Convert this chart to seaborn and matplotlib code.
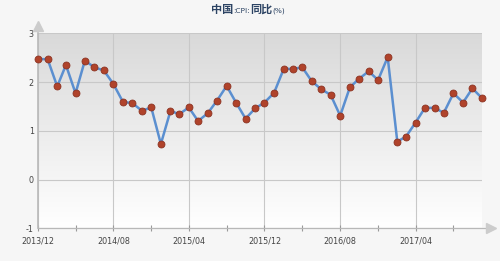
import numpy as np
import pandas as pd
import matplotlib
matplotlib.use("Agg")
import matplotlib.pyplot as plt
import matplotlib.dates as mdates
from matplotlib.colors import LinearSegmentedColormap
from matplotlib.offsetbox import TextArea, HPacker, AnchoredOffsetbox
import seaborn as sns

months = pd.date_range("2013-12-01", periods=48, freq="MS")
cpi = [2.47, 2.47, 1.91, 2.35, 1.77, 2.44, 2.30, 2.24, 1.96, 1.59, 1.57, 1.41,
       1.48, 0.73, 1.41, 1.34, 1.48, 1.20, 1.36, 1.62, 1.92, 1.57, 1.25, 1.46,
       1.58, 1.78, 2.27, 2.27, 2.30, 2.02, 1.85, 1.74, 1.31, 1.89, 2.07, 2.22,
       2.04, 2.51, 0.78, 0.88, 1.17, 1.47, 1.47, 1.37, 1.77, 1.58, 1.87, 1.67]
yticks = [-1, 0, 1, 2, 3]
title_parts = [("中国", True), (":CPI:", False), ("同比", True), ("(%)", False)]

df = pd.DataFrame({"month": months, "cpi": cpi})

sns.set_theme(style="white")
plt.rcParams["font.family"] = ["DejaVu Sans", "Noto Sans CJK SC"]

fig = plt.figure(figsize=(5.0, 2.61), dpi=100)
fig.patch.set_facecolor("#f6f6f6")

pos = [38 / 500, 1 - 228.3 / 261, 444 / 500, 195 / 261]
ax_bg = fig.add_axes(pos, zorder=0)
grad = np.linspace(0, 1, 256).reshape(-1, 1)
cmap = LinearSegmentedColormap.from_list("g", ["#ffffff", "#d9d9d9"])
ax_bg.imshow(grad, aspect="auto", cmap=cmap, origin="lower", extent=[0, 1, 0, 1])
ax_bg.set_axis_off()

ax = fig.add_axes(pos, zorder=1)
ax.patch.set_alpha(0)

sns.lineplot(data=df, x="month", y="cpi", ax=ax, color="#5b8fd0", linewidth=1.8,
             marker="o", markersize=5.0, markerfacecolor="#b0432b",
             markeredgecolor="#8c3322", markeredgewidth=0.6, clip_on=False, zorder=5)

ax.set_xlim(pd.Timestamp("2013-12-01"), pd.Timestamp("2017-11-01"))
ax.set_ylim(-1, 3)
ax.set_yticks(yticks)
ax.set_yticklabels([str(v) for v in yticks])
ax.set_xlabel("")
ax.set_ylabel("")

major = pd.date_range("2013-12-01", "2017-11-01", freq="8MS")
minor = pd.date_range("2014-04-01", "2017-11-01", freq="8MS")
ax.set_xticks(major)
ax.set_xticks(minor, minor=True)
ax.xaxis.set_major_formatter(mdates.DateFormatter("%Y/%m"))

ax.grid(True, which="major", axis="both", color="#c8c8c8", linewidth=0.8)
for s in ["top", "right"]:
    ax.spines[s].set_visible(False)
ax.spines["left"].set_color("#bbbbbb")
ax.spines["bottom"].set_visible(False)

ax.tick_params(axis="x", which="both", direction="inout", length=4, width=0.8,
               color="#999999", labelsize=5.8, labelcolor="#444444", pad=4, bottom=True)
ax.tick_params(axis="y", length=0, labelsize=5.8, labelcolor="#444444", pad=3, left=False)

ax.plot([0, 1.011], [0, 0], transform=ax.transAxes, color="#b8b8b8", lw=0.9,
        clip_on=False, zorder=3)
ax.plot([1.02], [0], transform=ax.transAxes, marker=">", markersize=6.5,
        color="#cccccc", clip_on=False, zorder=3)
ax.plot([0], [1.035], transform=ax.transAxes, marker="^", markersize=6.5,
        color="#cccccc", clip_on=False, zorder=3)

areas = []
for txt, big in title_parts:
    if big:
        props = dict(fontsize=8, fontweight="bold", color="#2d4464",
                     family=["Noto Sans CJK SC", "DejaVu Sans"])
    else:
        props = dict(fontsize=5.3, color="#2d4464",
                     family=["DejaVu Sans", "Noto Sans CJK SC"])
    areas.append(TextArea(txt, textprops=props))
box = HPacker(children=areas, align="baseline", pad=0, sep=0)
anch = AnchoredOffsetbox(loc="upper center", child=box, pad=0, frameon=False,
                         bbox_to_anchor=(248 / 500, 1 - 3 / 261),
                         bbox_transform=fig.transFigure, borderpad=0)
fig.add_artist(anch)

fig.savefig("out.png", dpi=100, facecolor=fig.get_facecolor())
